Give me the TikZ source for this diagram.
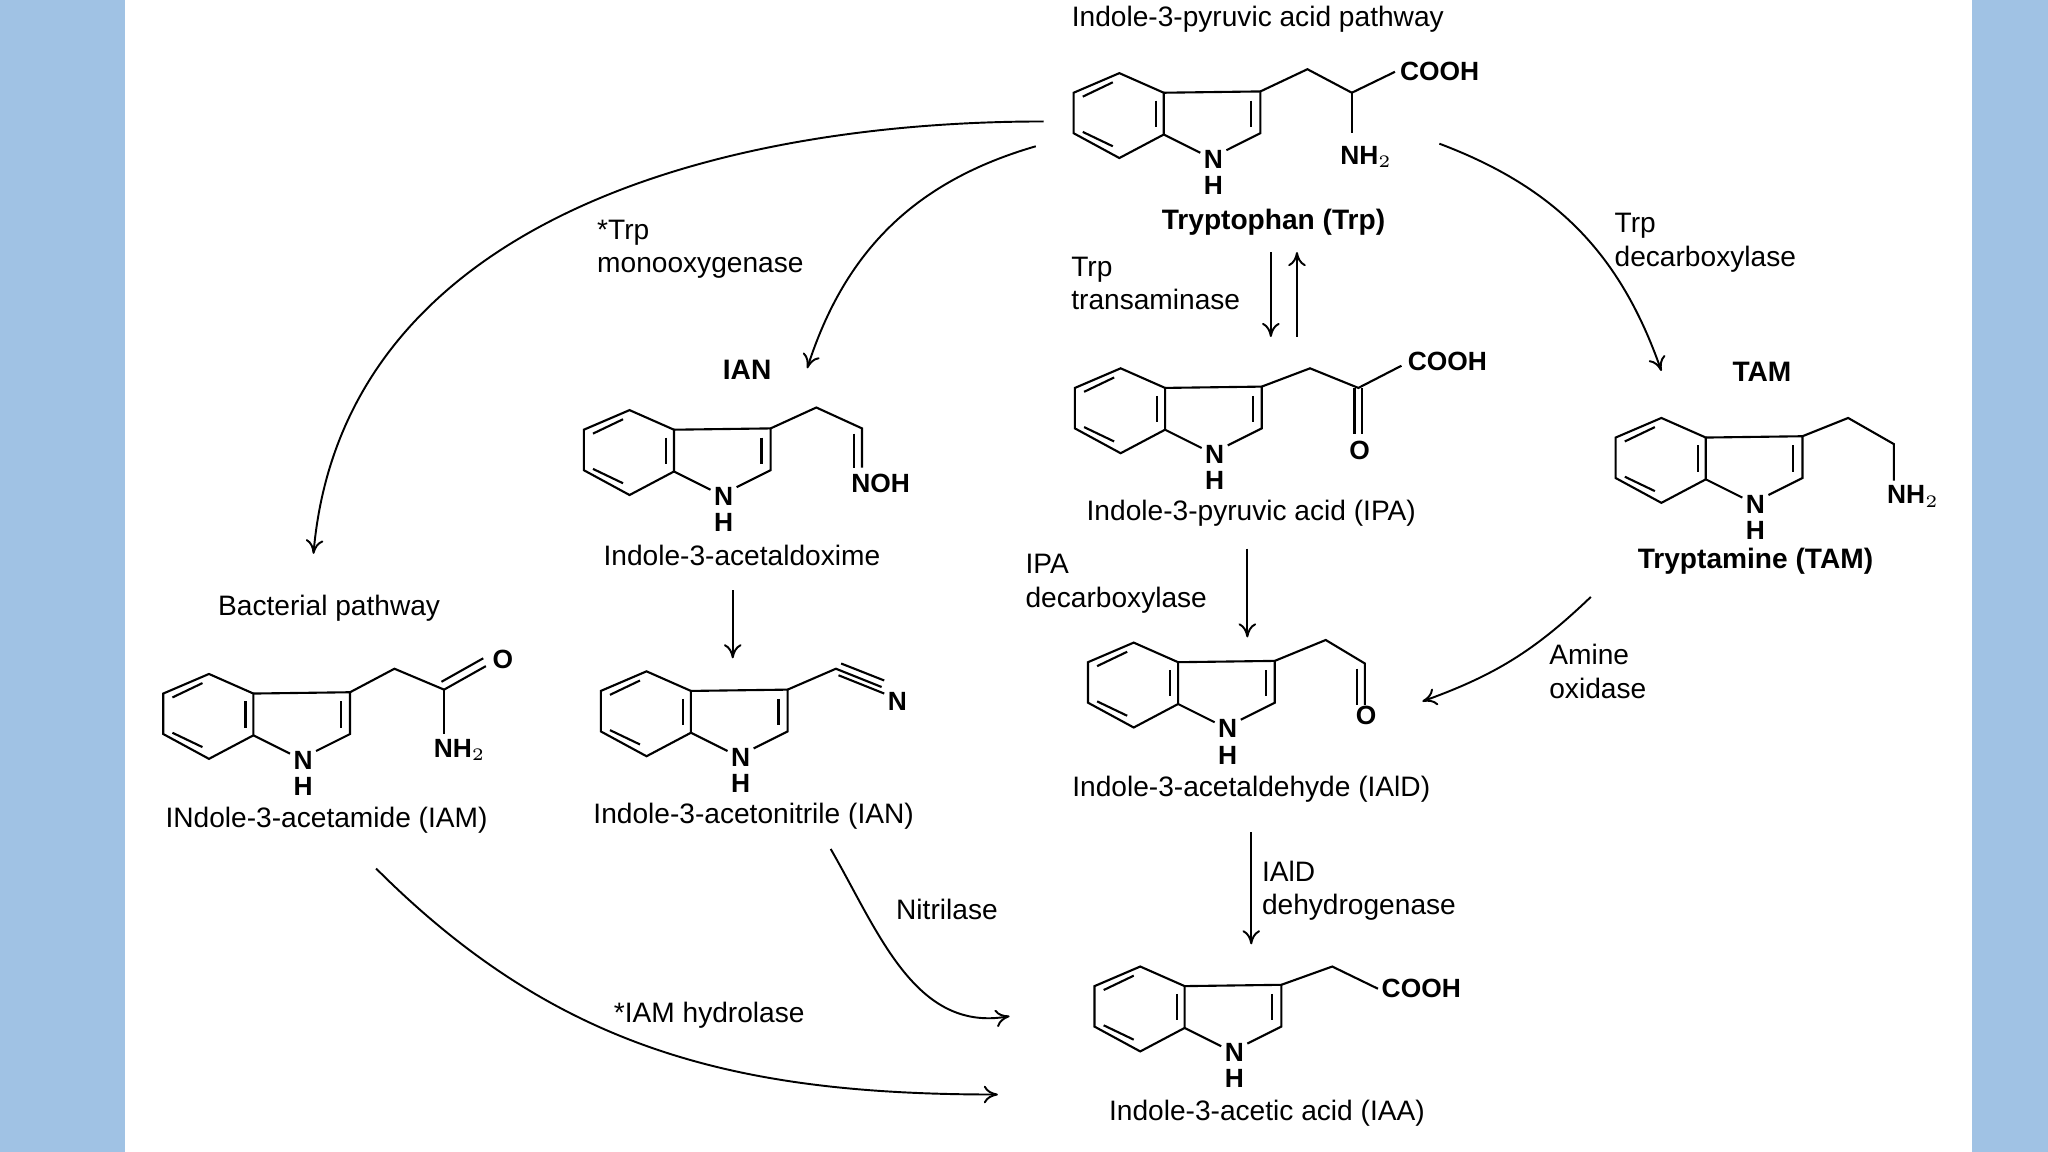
\documentclass[tikz,border=0pt]{standalone}
\usepackage{fontspec}
\setmainfont{Liberation Sans}
\usetikzlibrary{arrows.meta,calc}
\tikzset{
 lbl/.style={font=\fontsize{8}{9.5}\selectfont, inner sep=1pt},
 blbl/.style={lbl, font=\fontsize{8}{9.5}\selectfont\bfseries},
 two/.style={lbl, align=left, anchor=west},
 bond/.style={line width=0.6pt},
 arr/.style={line width=0.55pt, -{To[length=4pt,width=5pt]}},
 atom/.style={font=\fontsize{7.5}{9}\selectfont\bfseries, inner sep=0.5pt, fill=white},
 indole/.pic={
  \draw[bond] (0,-31)--(34,-16)--(34,16)--(0,34)--(-35,15)--(-35,-16)--cycle;
  \draw[bond] (-5,-24)--(-28,-13);
  \draw[bond] (-28,14)--(-5,25);
  \draw[bond] (28,-10)--(28,10);
  \draw[bond] (34,-16)--(108,-17)--(108,15)--(82,28);
  \draw[bond] (34,16)--(62,30);
  \draw[bond] (101,-10)--(101,10);
  \node[atom] at (72,35) {N};
  \node[atom,fill=none] at (72,55) {H};
 }}
\begin{document}
\begin{tikzpicture}[x=0.013061cm,y=-0.013061cm]
\useasboundingbox (0,0) rectangle (1568,882);
\fill[fill={rgb,255:red,160;green,194;blue,228}] (0,0) rectangle (96,882);
\fill[fill={rgb,255:red,160;green,194;blue,228}] (1510,0) rectangle (1568,882);

% Tryptophan
\pic at (857,87) {indole};
\draw[bond] (965,70)--(1001,53)--(1035,71)--(1068,55);
\draw[bond] (1035,71)--(1035,102);
\node[atom,anchor=west] (trpcooh) at (1070,55) {COOH};
\node[atom] (trpnh) at (1046,120) {NH$_2$};
\node[lbl] (path) at (963,15) {Indole-3-pyruvic acid pathway};
\node[blbl] (trp) at (975,170) {Tryptophan (Trp)};

% IPA
\pic at (858,313) {indole};
\draw[bond] (966,296)--(1003,282)--(1040,297)--(1073,280);
\draw[bond] (1037,297)--(1037,332) (1043,297)--(1043,332);
\node[atom,anchor=west] at (1076,277) {COOH};
\node[atom] at (1041,345) {O};
\node[lbl] (ipa) at (958,393) {Indole-3-pyruvic acid (IPA)};
\node[two] at (817,217) {Trp\\transaminase};
\coordinate (t1) at (973,193); \coordinate (t2) at (973,258);
\coordinate (t3) at (993,258); \coordinate (t4) at (993,193);
\draw[arr] (t1)--(t2); \draw[arr] (t3)--(t4);

% IAID
\pic at (868,523) {indole};
\draw[bond] (976,506)--(1015,490)--(1045,508)--(1045,540);
\draw[bond] (1039,512)--(1039,540);
\node[atom] at (1046,548) {O};
\node[lbl] (iaid) at (958,604) {Indole-3-acetaldehyde (IAlD)};
\node[two] at (782,447) {IPA\\decarboxylase};
\coordinate (d1) at (955,420); \coordinate (d2) at (955,488);
\draw[arr] (d1)--(d2);

% IAA
\pic at (873,771) {indole};
\draw[bond] (981,754)--(1020,740)--(1055,757);
\node[atom,anchor=west] at (1056,757) {COOH};
\node[lbl] (iaa) at (970,852) {Indole-3-acetic acid (IAA)};
\node[two] at (963,682) {IAlD\\dehydrogenase};
\coordinate (h1) at (958,637); \coordinate (h2) at (958,723);
\draw[arr] (h1)--(h2);

% TAM
\pic at (1272,351) {indole};
\draw[bond] (1380,334)--(1415,320)--(1450,340)--(1450,368);
\node[atom,anchor=west] at (1443,380) {NH$_2$};
\node[blbl] (tamt) at (1349,285) {TAM};
\node[blbl] (tam) at (1344,430) {Tryptamine (TAM)};
\node[two] at (1233,186) {Trp\\decarboxylase};
\node[two] at (1183,514) {Amine\\oxidase};
\coordinate (c1) at (1102,110); \coordinate (c2) at (1272,284);
\draw[arr] (c1) to[bend left=25] (c2);
\coordinate (c3) at (1218,457); \coordinate (c4) at (1089,537);
\draw[arr] (c3) to[bend left=12] (c4);

% Oxime
\pic at (482,345) {indole};
\draw[bond] (590,328)--(625,312)--(660,328)--(660,358);
\draw[bond] (654,332)--(654,358);
\node[atom,anchor=west] at (650,370) {NOH};
\node[blbl] (iant) at (572,283) {IAN};
\node[lbl] (oxime) at (568,425) {Indole-3-acetaldoxime};
\coordinate (m1) at (793,112); \coordinate (m2) at (618,282);
\draw[arr] (m1) to[bend right=28] (m2);
\coordinate (o1) at (561,452); \coordinate (o2) at (561,504);
\draw[arr] (o1)--(o2);

% IAN
\pic at (495,545) {indole};
\draw[bond] (603,528)--(640,512)--(675,526);
\draw[bond] (642,517)--(677,531) (644,508)--(677,521);
\node[atom] at (687,537) {N};
\node[lbl] (ian) at (577,625) {Indole-3-acetonitrile (IAN)};

% IAM
\pic at (160,547) {indole};
\draw[bond] (268,530)--(302,512)--(340,528)--(372,510);
\draw[bond] (338,522)--(370,504);
\draw[bond] (340,528)--(340,562);
\node[atom] at (385,505) {O};
\node[atom] at (352,574) {NH$_2$};
\node[lbl] (bact) at (252,466) {Bacterial pathway};
\node[lbl] (iam) at (250,628) {INdole-3-acetamide (IAM)};
\node[two] at (454,191) {*Trp\\monooxygenase};
\coordinate (p1) at (799,93); \coordinate (p2) at (240,424);
\draw[arr] (p1) to[out=180,in=85] (p2);

% to IAA
\node[lbl] (nit) at (725,696) {Nitrilase};
\coordinate (n1) at (636,650); \coordinate (n2) at (773,778);
\draw[arr] (n1) to[out=-60,in=190] (n2);
\node[lbl] (hyd) at (543,777) {*IAM hydrolase};
\coordinate (q1) at (288,665); \coordinate (q2) at (764,838);
\draw[arr] (q1) to[out=-45,in=180] (q2);
\end{tikzpicture}
\end{document}
